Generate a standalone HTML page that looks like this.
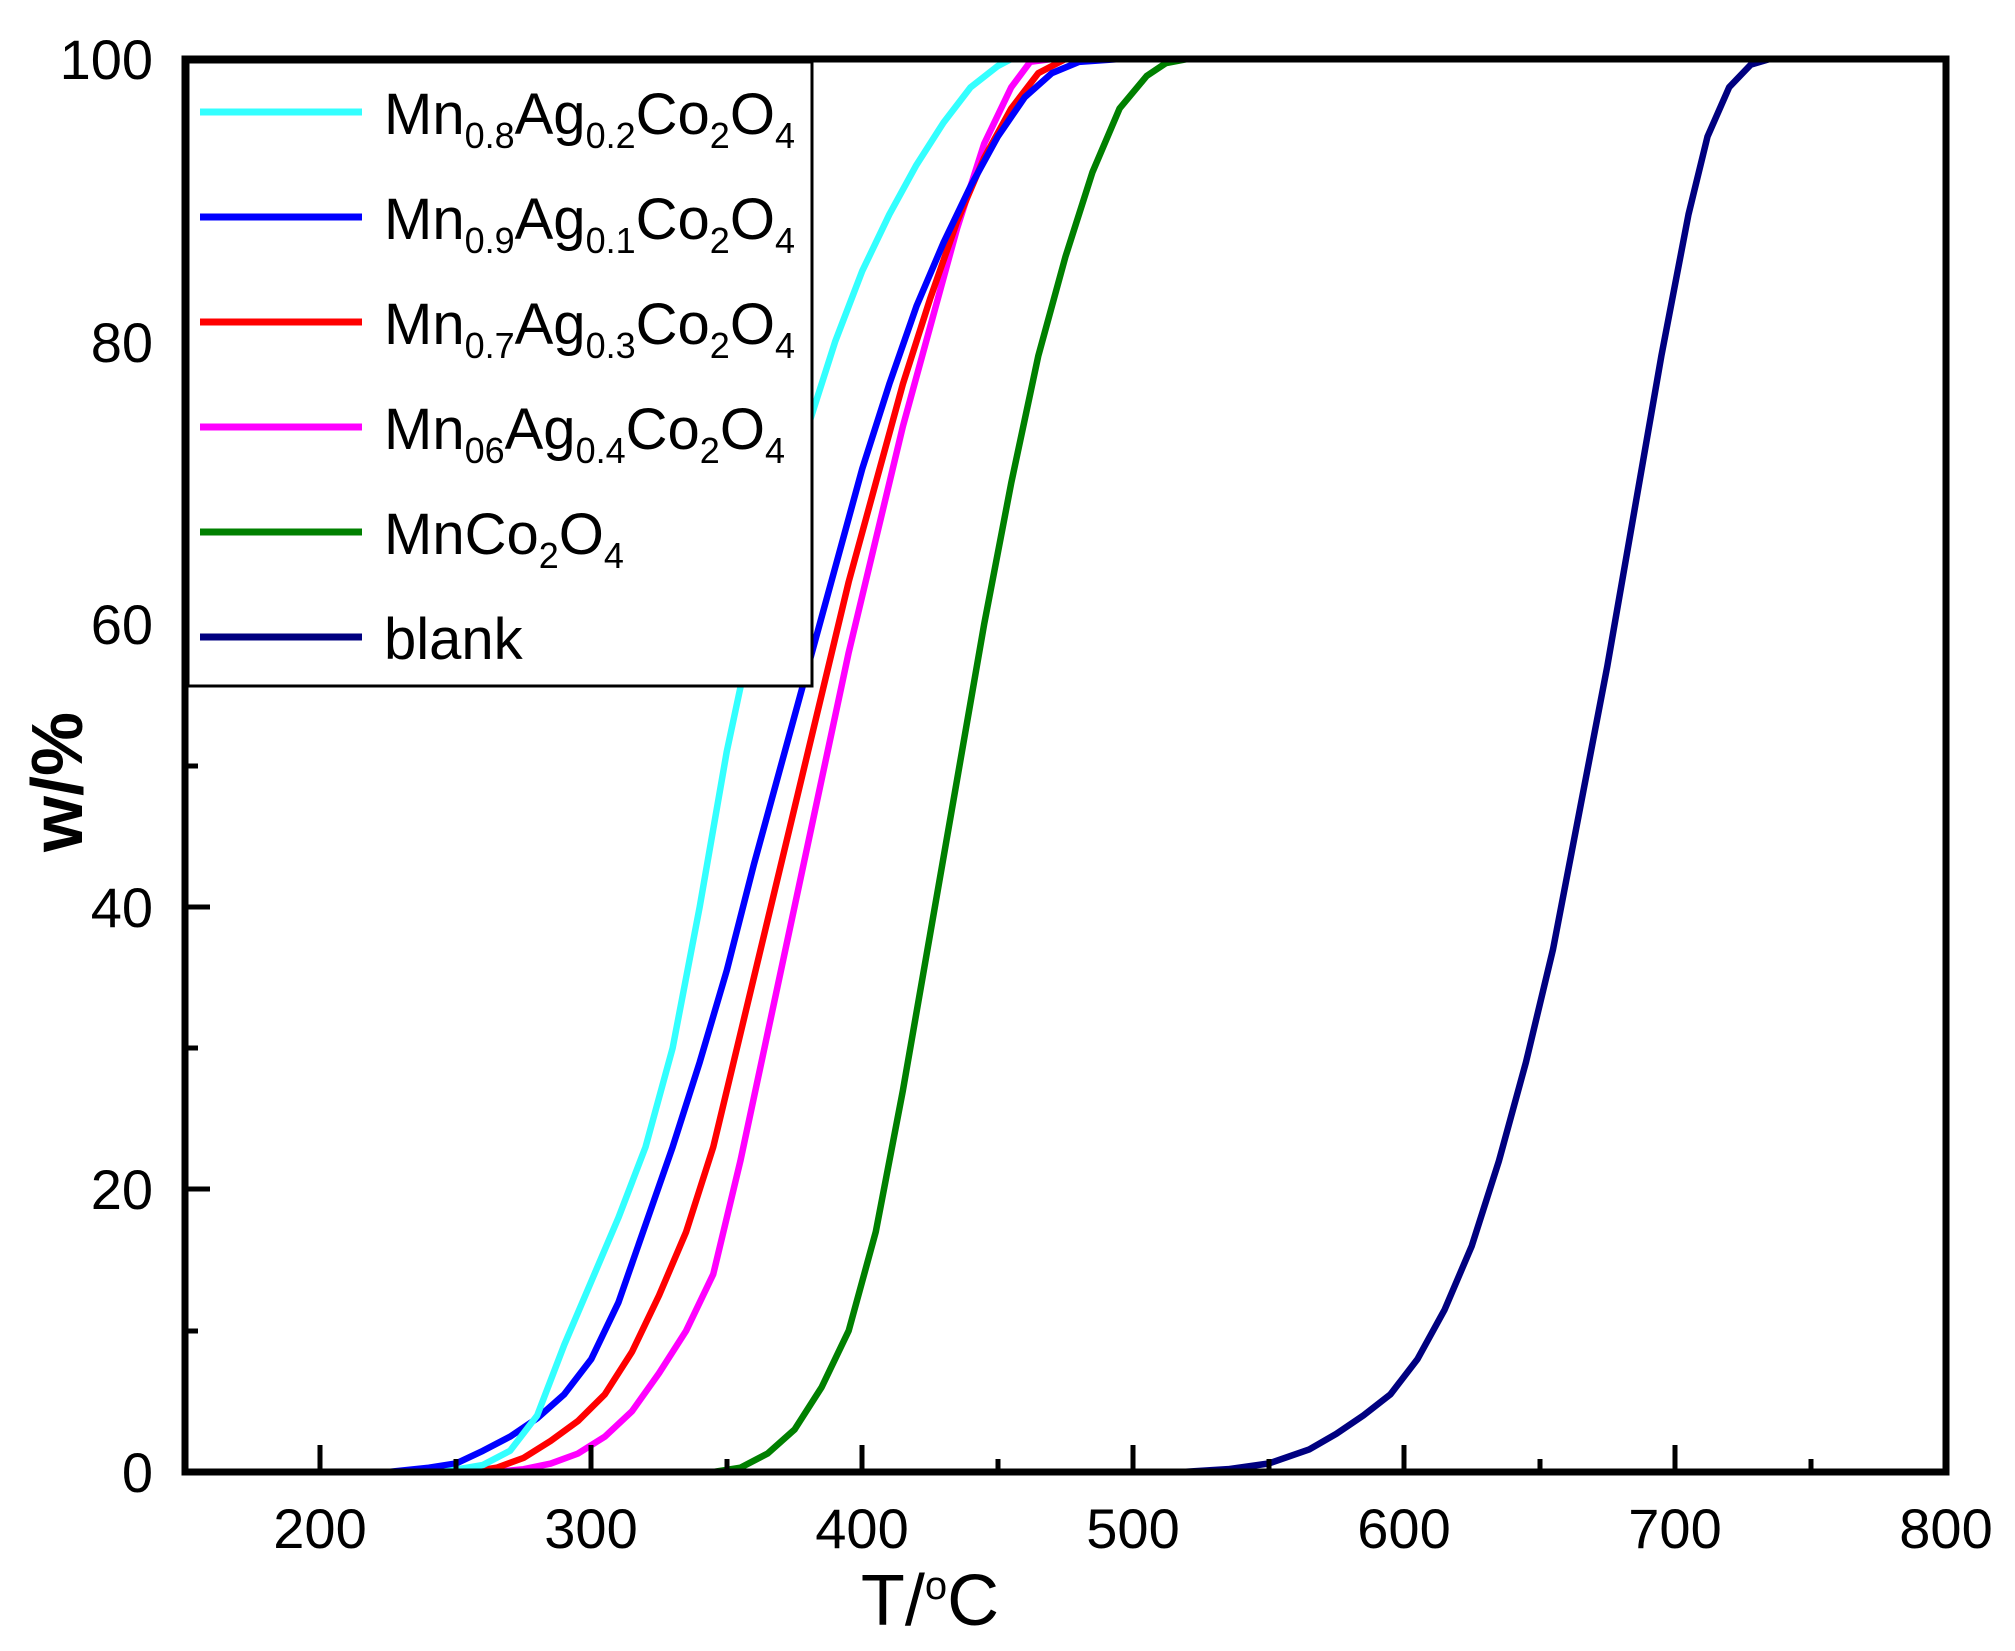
<!DOCTYPE html>
<html><head><meta charset="utf-8"><style>
html,body{margin:0;padding:0;background:#fff;}
svg{display:block;}
text{font-family:"Liberation Sans",sans-serif;fill:#000;}
</style></head><body>
<svg width="2015" height="1651" viewBox="0 0 2015 1651" xmlns="http://www.w3.org/2000/svg">
<rect width="2015" height="1651" fill="#fff"/>
<g transform="translate(185,1472) scale(2.709,-14.13) translate(-150,0)" fill="none" stroke-width="6.5" stroke-linejoin="round">
<polyline vector-effect="non-scaling-stroke" stroke="#000080" points="518,0 535,0.2 550,0.6 565,1.6 575,2.7 585,4 595,5.5 605,8 615,11.5 625,16 635,22 645,29 655,37 665,47 675,57 685,68 695,79 705,89 712,94.5 720,98 728,99.6 735,100 740,100"/>
<polyline vector-effect="non-scaling-stroke" stroke="#008000" points="345,0 355,0.3 365,1.3 375,3 385,6 395,10 405,17 415,27 425,38 435,49 445,60 455,70 465,79 475,86 485,92 495,96.5 505,98.8 512,99.7 520,100"/>
<polyline vector-effect="non-scaling-stroke" stroke="#ff00ff" points="265,0 275,0.2 285,0.6 295,1.3 305,2.5 315,4.3 325,7 335,10 345,14 355,22 365,31 375,40 385,49 395,58 405,66 415,74 425,81 435,88 445,94 455,98 462,99.8 470,100"/>
<polyline vector-effect="non-scaling-stroke" stroke="#ff0000" points="255,0 265,0.3 275,1 285,2.2 295,3.6 305,5.5 315,8.5 325,12.5 335,17 345,23 355,31 365,39 375,47 385,55 395,63 405,70 415,77 425,83 435,88.5 445,93 455,96.5 465,99 475,100"/>
<polyline vector-effect="non-scaling-stroke" stroke="#0000ff" points="225,0 240,0.3 250,0.6 260,1.5 270,2.5 280,3.8 290,5.5 300,8 310,12 320,17.5 330,23 340,29 350,35.5 360,43 370,50 380,57 390,64 400,71 410,77 420,82.5 430,87 440,91 450,94.5 460,97.3 470,99 480,99.8 495,100"/>
<polyline vector-effect="non-scaling-stroke" stroke="#33ffff" points="245,0 260,0.5 270,1.5 280,4 290,9 300,13.5 310,18 320,23 330,30 340,40 350,51 360,60 370,67 380,74 390,80 400,85 410,89 420,92.5 430,95.5 440,98 450,99.5 455,100 460,100"/>
</g>
<rect x="185" y="59" width="1761" height="1413" fill="none" stroke="#000" stroke-width="7"/>
<g stroke="#000" stroke-width="5">
<line x1="320" y1="1472" x2="320" y2="1445"/><line x1="456" y1="1472" x2="456" y2="1459"/>
<line x1="591" y1="1472" x2="591" y2="1445"/><line x1="727" y1="1472" x2="727" y2="1459"/>
<line x1="862" y1="1472" x2="862" y2="1445"/><line x1="998" y1="1472" x2="998" y2="1459"/>
<line x1="1133" y1="1472" x2="1133" y2="1445"/><line x1="1269" y1="1472" x2="1269" y2="1459"/>
<line x1="1404" y1="1472" x2="1404" y2="1445"/><line x1="1540" y1="1472" x2="1540" y2="1459"/>
<line x1="1675" y1="1472" x2="1675" y2="1445"/><line x1="1811" y1="1472" x2="1811" y2="1459"/>
<line x1="185" y1="1331" x2="198" y2="1331"/><line x1="185" y1="1189" x2="210" y2="1189"/>
<line x1="185" y1="1048" x2="198" y2="1048"/><line x1="185" y1="907" x2="210" y2="907"/>
<line x1="185" y1="766" x2="198" y2="766"/><line x1="185" y1="624" x2="210" y2="624"/>
<line x1="185" y1="483" x2="198" y2="483"/><line x1="185" y1="342" x2="210" y2="342"/>
<line x1="185" y1="200" x2="198" y2="200"/>
</g>
<g font-size="56" text-anchor="middle">
<text x="320" y="1548">200</text><text x="591" y="1548">300</text><text x="862" y="1548">400</text>
<text x="1133" y="1548">500</text><text x="1404" y="1548">600</text><text x="1675" y="1548">700</text>
<text x="1946" y="1548">800</text>
</g>
<g font-size="56" text-anchor="end">
<text x="153" y="1492">0</text><text x="153" y="1209">20</text><text x="153" y="927">40</text>
<text x="153" y="644">60</text><text x="153" y="362">80</text><text x="153" y="79">100</text>
</g>
<text x="930" y="1625" font-size="72" text-anchor="middle">T/<tspan dy="-26" font-size="40">o</tspan><tspan dy="26">C</tspan></text>
<text transform="translate(82,782) rotate(-90)" font-size="72" font-weight="bold" text-anchor="middle">w/%</text>
<rect x="188" y="62" width="624" height="624" fill="#fff" stroke="#000" stroke-width="3"/>
<g stroke-width="7">
<line x1="200" y1="112" x2="362" y2="112" stroke="#33ffff"/>
<line x1="200" y1="217" x2="362" y2="217" stroke="#0000ff"/>
<line x1="200" y1="322" x2="362" y2="322" stroke="#ff0000"/>
<line x1="200" y1="427" x2="362" y2="427" stroke="#ff00ff"/>
<line x1="200" y1="532" x2="362" y2="532" stroke="#008000"/>
<line x1="200" y1="637" x2="362" y2="637" stroke="#000080"/>
</g>
<g font-size="58">
<text x="384" y="134">Mn<tspan dy="14" font-size="36">0.8</tspan><tspan dy="-14">Ag</tspan><tspan dy="14" font-size="36">0.2</tspan><tspan dy="-14">Co</tspan><tspan dy="14" font-size="36">2</tspan><tspan dy="-14">O</tspan><tspan dy="14" font-size="36">4</tspan></text>
<text x="384" y="239">Mn<tspan dy="14" font-size="36">0.9</tspan><tspan dy="-14">Ag</tspan><tspan dy="14" font-size="36">0.1</tspan><tspan dy="-14">Co</tspan><tspan dy="14" font-size="36">2</tspan><tspan dy="-14">O</tspan><tspan dy="14" font-size="36">4</tspan></text>
<text x="384" y="344">Mn<tspan dy="14" font-size="36">0.7</tspan><tspan dy="-14">Ag</tspan><tspan dy="14" font-size="36">0.3</tspan><tspan dy="-14">Co</tspan><tspan dy="14" font-size="36">2</tspan><tspan dy="-14">O</tspan><tspan dy="14" font-size="36">4</tspan></text>
<text x="384" y="449">Mn<tspan dy="14" font-size="36">06</tspan><tspan dy="-14">Ag</tspan><tspan dy="14" font-size="36">0.4</tspan><tspan dy="-14">Co</tspan><tspan dy="14" font-size="36">2</tspan><tspan dy="-14">O</tspan><tspan dy="14" font-size="36">4</tspan></text>
<text x="384" y="554">MnCo<tspan dy="14" font-size="36">2</tspan><tspan dy="-14">O</tspan><tspan dy="14" font-size="36">4</tspan></text>
<text x="384" y="659">blank</text>
</g>
</svg>
</body></html>
